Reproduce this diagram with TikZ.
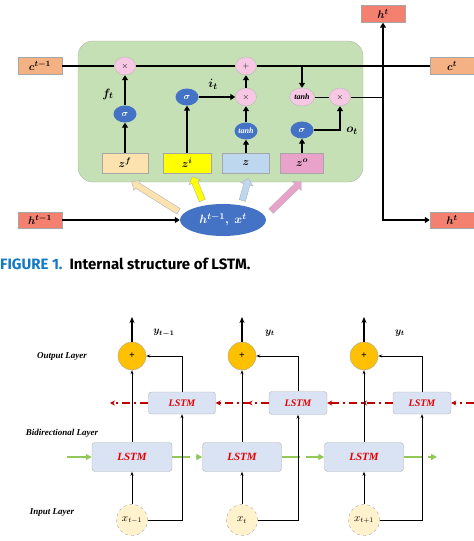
\documentclass[tikz,border=0pt]{standalone}
\usepackage{amsmath}
\usepackage{amssymb}
\usepackage{fontspec}
\setmainfont{Liberation Serif}
\newfontfamily\capfont{Fira Sans}
\usetikzlibrary{arrows.meta, shapes.geometric, shapes.arrows, decorations.markings}

\definecolor{cellgreen}{HTML}{C5E0B4}
\definecolor{cellorange}{HTML}{F4B183}
\definecolor{hidred}{HTML}{F4806F}
\definecolor{oppink}{HTML}{F6C8E4}
\definecolor{actblue}{HTML}{4472C4}
\definecolor{zfpeach}{HTML}{FCE2AE}
\definecolor{zigold}{HTML}{FFFF00}
\definecolor{zzblue}{HTML}{BDD7EE}
\definecolor{zopink}{HTML}{E9A3CB}
\definecolor{capblue}{HTML}{1479C4}
\definecolor{sumyellow}{HTML}{FFC000}
\definecolor{inyellow}{HTML}{FFF2CC}
\definecolor{lstmblue}{HTML}{DAE3F3}
\definecolor{backred}{HTML}{C00000}
\definecolor{fwdgreen}{HTML}{92C85A}

\tikzset{
  statebox/.style={draw=gray!70, minimum width=44pt, minimum height=17pt, inner sep=0pt, font=\fontsize{11}{11}\selectfont\boldmath},
  gatebox/.style={draw=gray!70, minimum height=20pt, inner sep=0pt, font=\fontsize{11}{11}\selectfont\boldmath},
  opnode/.style={ellipse, draw=gray!55, fill=oppink, minimum width=21pt, minimum height=18pt, inner sep=0pt, font=\fontsize{8}{8}\selectfont},
  actnode/.style={ellipse, fill=actblue, minimum width=23pt, minimum height=17pt, inner sep=0pt, text=white, font=\fontsize{9}{9}\selectfont\bfseries\itshape\boldmath},
  flow/.style={line width=1.6pt, -{Triangle[length=5pt, width=6pt]}},
  plainflow/.style={line width=1pt},
  fatarrow/.style={single arrow, draw=gray!60, inner sep=3pt, single arrow head extend=3pt, single arrow head indent=0pt, minimum width=12pt},
  gatelabel/.style={font=\fontsize{13}{13}\selectfont\boldmath},
  sumnode/.style={circle, draw=gray!70, fill=sumyellow, minimum size=28pt, inner sep=0pt, font=\bfseries},
  innode/.style={circle, draw=gray!70, dashed, fill=inyellow, minimum size=31pt, inner sep=0pt, font=\fontsize{10.5}{10.5}\selectfont},
  lstmbox/.style={rounded corners=3pt, draw=gray!60, fill=lstmblue, inner sep=0pt, text=red!90!black, font=\fontsize{11}{11}\selectfont\bfseries\itshape},
  layerlabel/.style={font=\fontsize{9}{9}\selectfont\bfseries\itshape},
  link/.style={line width=0.8pt, -{Stealth[length=4pt, width=3pt]}},
  outflow/.style={line width=1.6pt, -{Stealth[length=6pt, width=5pt]}},
  backflow/.style={backred, line width=1.6pt, dash pattern=on 8pt off 4pt on 2pt off 4pt, -{Stealth[length=5pt, width=5pt]}},
  fwdflow/.style={fwdgreen, line width=1.4pt, dash pattern=on 18pt off 6pt, -{Triangle[length=6pt, width=6pt]}},
  midarrow/.style={postaction={decorate}, decoration={markings, mark=at position #1 with {\arrow{Stealth[length=5pt, width=5pt]}}}}
}

\begin{document}
\begin{tikzpicture}[x=1pt, y=-1pt]

\useasboundingbox ( 0, 0 ) rectangle ( 474, 541 );

% LSTM cell body
\draw[draw=gray!60, fill=cellgreen, rounded corners=15pt] ( 78, 41 ) rectangle ( 363, 182 );

% Cell and hidden states
\node[statebox, fill=cellorange] (cprev) at ( 40, 66 ) {$c^{t-1}$};
\node[statebox, fill=cellorange] (cnext) at ( 452, 66 ) {$c^{t}$};
\node[statebox, fill=hidred] (htop) at ( 383, 14 ) {$h^{t}$};
\node[statebox, fill=hidred, minimum height=16pt] (hprev) at ( 40, 220 ) {$h^{t-1}$};
\node[statebox, fill=hidred, minimum height=16pt] (hout) at ( 452, 220 ) {$h^{t}$};

% Gate inputs
\node[gatebox, fill=zfpeach, minimum width=46pt] (zf) at ( 125, 163 ) {$z^{f}$};
\node[gatebox, fill=zigold, minimum width=48pt] (zi) at ( 187, 163 ) {$z^{i}$};
\node[gatebox, fill=zzblue, minimum width=47pt] (zz) at ( 246, 163 ) {$z$};
\node[gatebox, fill=zopink, minimum width=43pt] (zo) at ( 302, 163 ) {$z^{o}$};

% Activations
\node[actnode] (sigf) at ( 125, 114 ) {$\sigma$};
\node[actnode] (sigi) at ( 187, 97 ) {$\sigma$};
\node[actnode, font=\fontsize{8}{8}\selectfont\bfseries\itshape] (tanhz) at ( 246, 131 ) {tanh};
\node[actnode] (sigo) at ( 302, 130 ) {$\sigma$};

% Pointwise operations
\node[opnode] (mulf) at ( 125, 66 ) {$\times$};
\node[opnode] (addc) at ( 246, 66 ) {$+$};
\node[opnode] (muli) at ( 246, 97 ) {$\times$};
\node[opnode, minimum width=25pt, font=\fontsize{8}{8}\selectfont\bfseries\itshape] (tanhc) at ( 302, 97 ) {tanh};
\node[opnode] (mulo) at ( 340, 97 ) {$\times$};

% Gate labels
\node[gatelabel] (ft) at ( 108, 94 ) {$f_t$};
\node[gatelabel] (it) at ( 213, 84 ) {$i_t$};
\node[gatelabel] (ot) at ( 352, 131 ) {$o_t$};

% Concatenated input
\node[ellipse, fill=actblue, minimum width=86pt, minimum height=32pt, inner sep=0pt, text=white, font=\fontsize{12.5}{12.5}\selectfont\boldmath] (hx) at ( 223, 220 ) {$h^{t-1},\ x^{t}$};

% Flows inside the cell
\draw[line width=1.6pt] (cprev) -- (mulf) (mulf) -- (addc) (addc) -- (cnext);
\draw[flow] (zf) -- (sigf);
\draw[flow] (sigf) -- (mulf);
\draw[flow] (zi) -- (sigi);
\draw[flow] (sigi) -- (muli);
\draw[flow] (zz) -- (tanhz);
\draw[flow] (tanhz) -- (muli);
\draw[flow] (muli) -- (addc);
\draw[flow] (zo) -- (sigo);
\draw[flow] (sigo.east) -| (mulo.south);

\coordinate (tap) at ( 302, 66 );
\draw[flow] (tap) -- (tanhc);
\draw[plainflow] (tanhc) -- (mulo);

% Hidden output
\coordinate (hjoin) at ( 383, 97 );
\coordinate (hturn) at ( 383, 220 );
\draw[plainflow] (mulo) -- (hjoin);
\draw[line width=1.6pt, {Triangle[length=5pt, width=6pt]}-{Triangle[length=5pt, width=6pt]}] (htop.south) -- (hturn) -- (hout.west);
\draw[flow] (hprev) -- (hx);

% Fat arrows to the gates
\node[fatarrow, fill=zfpeach, minimum height=55pt, rotate=148] (fa) at ( 156.5, 197.5 ) {};
\node[fatarrow, fill=zigold, minimum height=26pt, rotate=112.6] (ia) at ( 198, 190 ) {};
\node[fatarrow, fill=zzblue, minimum height=23pt, rotate=74.7] (za) at ( 245, 191 ) {};
\node[fatarrow, fill=zopink, minimum height=42pt, rotate=44] (oa) at ( 285, 197.5 ) {};

% Caption
\node[anchor=west, inner sep=0pt, font=\capfont\bfseries\fontsize{15}{15}\selectfont] (caption) at ( 0, 264 ) {\textcolor{capblue}{FIGURE 1.}\hspace{7pt}Internal structure of LSTM.};

% Bidirectional LSTM
\node[layerlabel] (outlbl) at ( 62, 356 ) {Output Layer};
\node[layerlabel] (bilbl) at ( 62, 433 ) {Bidirectional Layer};
\node[layerlabel] (inlbl) at ( 52, 513 ) {Input Layer};

\node[sumnode] (o1) at ( 132, 356 ) {+};
\node[sumnode] (o2) at ( 242, 356 ) {+};
\node[sumnode] (o3) at ( 364, 356 ) {+};

\node[lstmbox, minimum width=67pt, minimum height=22pt, font=\fontsize{10}{10}\selectfont\bfseries\itshape] (b1) at ( 182, 403 ) {LSTM};
\node[lstmbox, minimum width=58pt, minimum height=23pt, font=\fontsize{10}{10}\selectfont\bfseries\itshape] (b2) at ( 298, 403 ) {LSTM};
\node[lstmbox, minimum width=58pt, minimum height=22pt, font=\fontsize{10}{10}\selectfont\bfseries\itshape] (b3) at ( 422, 403 ) {LSTM};

\node[lstmbox, minimum width=80pt, minimum height=29pt] (f1) at ( 132, 457 ) {LSTM};
\node[lstmbox, minimum width=79pt, minimum height=29pt] (f2) at ( 242, 457 ) {LSTM};
\node[lstmbox, minimum width=79pt, minimum height=29pt] (f3) at ( 364, 457 ) {LSTM};

\node[innode] (x1) at ( 132, 520 ) {$x_{t-1}$};
\node[innode] (x2) at ( 242, 520 ) {$x_{t}$};
\node[innode] (x3) at ( 364, 520 ) {$x_{t+1}$};

% Backward pass
\coordinate (bin) at ( 474, 403 );
\coordinate (bout) at ( 110, 403 );
\draw[backflow] (bin) -- (b3);
\draw[backflow, midarrow=0.47] (b3) -- (b2);
\draw[backflow, midarrow=0.4] (b2) -- (b1);
\draw[backflow] (b1) -- (bout);

% Forward pass
\coordinate (fin) at ( 67, 457 );
\coordinate (fout) at ( 437, 457 );
\draw[fwdflow, solid] (fin) -- (f1);
\draw[fwdflow] (f1) -- (f2);
\draw[fwdflow] (f2) -- (f3);
\draw[fwdflow] (f3) -- (fout);

% Links between layers
\foreach \c in {1, 2, 3} {
  \draw[link] (x\c) -- (f\c);
  \draw[link] (x\c.east) -| (b\c.south);
  \draw[link] (f\c) -- (o\c);
  \draw[link] (b\c.north) |- (o\c.east);
}

% Outputs
\coordinate (y1) at ( 132, 317 );
\coordinate (y2) at ( 242, 317 );
\coordinate (y3) at ( 364, 317 );
\draw[outflow] (o1) -- (y1);
\draw[outflow] (o2) -- (y2);
\draw[outflow] (o3) -- (y3);
\node[font=\fontsize{10}{10}\selectfont\boldmath] (ly1) at ( 164, 333 ) {$y_{t-1}$};
\node[font=\fontsize{10}{10}\selectfont\boldmath] (ly2) at ( 270, 333 ) {$y_{t}$};
\node[font=\fontsize{10}{10}\selectfont\boldmath] (ly3) at ( 400, 333 ) {$y_{t}$};

\end{tikzpicture}
\end{document}
